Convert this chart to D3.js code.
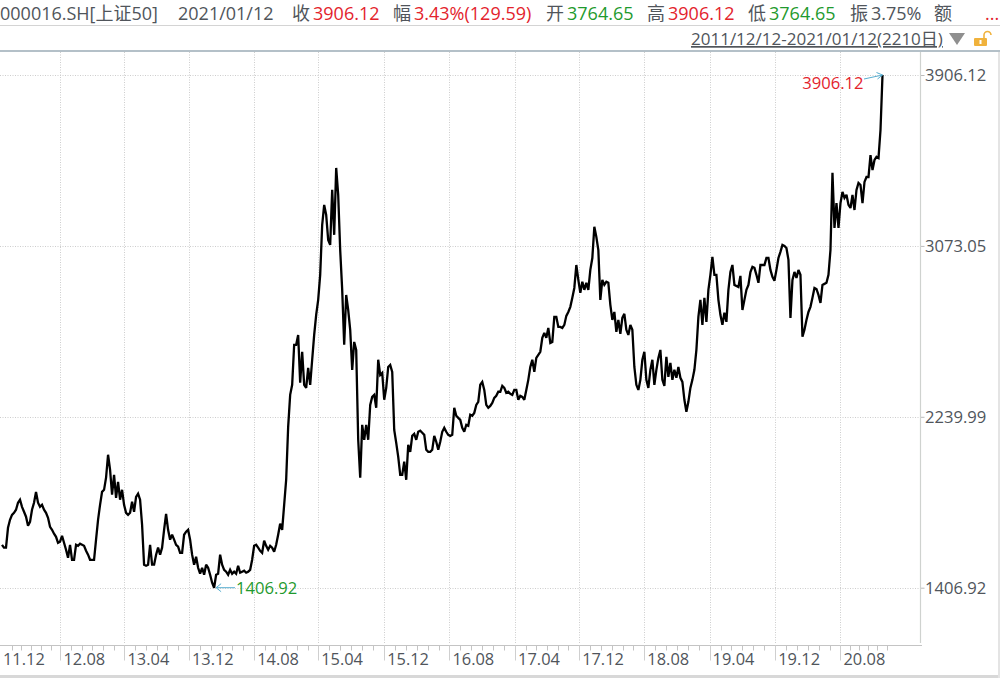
<!DOCTYPE html>
<html><head><meta charset="utf-8">
<script src="https://cdnjs.cloudflare.com/ajax/libs/d3/7.8.5/d3.min.js"></script>
<style>html,body{margin:0;padding:0;background:#fff;overflow:hidden}svg{display:block}text{font-family:"Open Sans","Noto Sans CJK SC",sans-serif}</style>
</head><body><svg id="c" width="1000" height="678"></svg>
<script>
// Sampled every 5 trading sessions, in index points
const SESSION_STEP = 5;
const closes2011to2014 = [1616,1602,1602,1699,1738,1762,1772,1787,1821,1836,1801,1777,1753,1709,1728,1787,1821,1874,1821,1801,1811,1787,1772,1748,1704,1689,1670,1655,1626,1631,1660,1626,1592,1553,1616,1543,1543,1616,1611,1621,1616,1611,1587,1568,1543,1543,1543,1641,1738,1811,1874,1884,1943,2055,1982,1860,1957,1845,1923,1836,1884,1811,1772,1762,1772,1826,1777,1850,1865,1836,1714,1519,1514,1519,1616,1519,1519,1568,1602,1568,1602,1689,1767,1689,1641,1665,1641,1616,1607,1577,1577,1665,1680,1689,1641,1568,1519,1558,1504,1475,1504,1470,1519,1504,1470,1431,1406.92,1470,1475,1568,1519,1494,1485,1470,1494,1475,1485,1475,1514,1480,1485,1490,1480,1485,1494,1543,1611,1616,1602,1587,1577,1636,1611,1592,1611,1602,1582,1616,1665,1719,1689,1811,1933,2191];
const closes2014to2016 = [2347,2396,2591,2591,2639,2406,2557,2396,2381,2479,2396,2518,2639,2737,2810,2932,3175,3273,3224,3102,3078,3346,3127,3453,3322,3053,2859,2591,2834,2761,2664,2469,2605,2566,2128,1943,2201,2128,2201,2128,2298,2337,2347,2284,2518,2444,2454,2323,2381,2483,2493,2459,2176,2113,2045,1957,1957,2021,1933,2103,2069,2147,2157,2128,2167,2172,2162,2152,2079,2069,2069,2079,2147,2118,2079,2118,2167,2186,2167,2152,2147,2152,2284,2245,2235,2225,2186,2167,2201,2196,2250,2245,2259,2298,2313,2396,2410,2371,2298,2284,2293,2308,2332,2342,2362];
const closes2016to2021 = [2362,2391,2381,2357,2362,2352,2347,2371,2371,2323,2342,2337,2323,2371,2420,2483,2518,2459,2527,2542,2557,2625,2649,2625,2673,2600,2605,2727,2727,2678,2678,2673,2688,2732,2751,2776,2820,2868,2980,2907,2844,2898,2859,2893,2859,2956,3014,3166,3117,3053,2810,2907,2883,2898,2893,2786,2712,2751,2654,2712,2644,2722,2742,2664,2639,2688,2664,2483,2396,2371,2420,2518,2557,2420,2381,2469,2518,2396,2469,2527,2566,2420,2391,2532,2435,2503,2420,2469,2430,2483,2430,2410,2323,2264,2313,2381,2420,2469,2566,2727,2810,2688,2820,2703,2859,2932,3019,2932,2932,2810,2737,2688,2747,2703,2859,2946,2980,2883,2878,2873,2927,2761,2810,2859,2883,2946,2971,2966,2932,2893,2980,2980,2980,3014,3014,2956,2922,2903,2956,3014,3044,3078,3073,3063,3005,2722,2907,2946,2917,2956,2932,2630,2664,2712,2751,2776,2820,2868,2863,2834,2795,2883,2888,2893,2932,3053,3429,3161,3282,3161,3282,3336,3307,3322,3273,3258,3322,3248,3346,3380,3370,3282,3385,3409,3409,3516,3443,3492,3507,3501,3638,3906.12];
const priceTicks = [3906.12,3073.05,2239.99,1406.92];
const tickLabels = ["11.12","12.08","13.04","13.12","14.08","15.04","15.12","16.08","17.04","17.12","18.08","19.04","19.12","20.08"];
const tickSessions = [0,146,306,467,630,790,955,1118,1282,1442,1605,1768,1932,2095];
const headerTexts = ["000016.SH[上证50]","2021/01/12","收","3906.12","幅","3.43%(129.59)","开","3764.65","高","3906.12","低","3764.65","振","3.75%","额","..."];
const headerKinds = ["n","n","n","r","n","r","n","g","n","r","n","g","n","n","n","r"];
const rangeText = "2011/12/12-2021/01/12(2210日)";
const highValue = 3906.12, lowValue = 1406.92;

const closes = [...closes2011to2014,...closes2014to2016,...closes2016to2021];
const series = closes.map((v,i)=>({session:i*SESSION_STEP,value:v}));

const svg = d3.select("#c");
const GRAY="#50555b", RED="#e3232c", GREEN="#1f9a2e", ARROW="#58aed0", GRID="#cdcdcd";
const kindColor = {n:GRAY,r:RED,g:GREEN};
const x = d3.scaleLinear().domain([0,2200]).range([2,882.5]);
const y = d3.scaleLinear().domain([lowValue,highValue]).range([587.7,75]);
const plotRight=920, plotTop=52, plotBottom=643, axisY=645.5;

// frame
const hdrX=[0,178,292,313,393,414,546,567,647,668,748,769,850,871,934,985];
svg.append("rect").attr("x",0).attr("y",25).attr("width",1000).attr("height",1).attr("fill","#d4d4d4");
svg.append("rect").attr("x",0).attr("y",50).attr("width",1000).attr("height",2).attr("fill","#b4c0c8");
svg.append("rect").attr("x",0).attr("y",675).attr("width",1000).attr("height",3).attr("fill","#d8d8d8");
svg.append("rect").attr("x",998).attr("y",52).attr("width",2).attr("height",626).attr("fill","#e4e4e4");

svg.append("g").selectAll("text").data(headerTexts).join("text")
  .attr("x",(d,i)=>hdrX[i]).attr("y",20).attr("font-size",18)
  .attr("fill",(d,i)=>kindColor[headerKinds[i]]).text(d=>d);

svg.append("text").attr("x",691).attr("y",45).attr("font-size",17).attr("fill",GRAY)
  .attr("text-decoration","underline").text(rangeText);
svg.append("path").attr("d","M949,33L965,33L957,45Z").attr("fill","#8f8f8f");
svg.append("rect").attr("x",974).attr("y",38).attr("width",13).attr("height",8).attr("rx",1).attr("fill","#f0b23c");
svg.append("rect").attr("x",979.5).attr("y",40).attr("width",2).attr("height",4).attr("fill","#fff");
svg.append("path").attr("d","M984,38V35a3.5,3.5 0 0 1 7,0").attr("fill","none").attr("stroke","#f0b23c").attr("stroke-width",1.6);

// grid
const majors = tickSessions.slice(1);
svg.append("g").selectAll("line").data(majors).join("line")
  .attr("x1",d=>Math.round(x(d))+.5).attr("x2",d=>Math.round(x(d))+.5)
  .attr("y1",plotTop).attr("y2",plotBottom)
  .attr("stroke",GRID).attr("stroke-dasharray","1,1.5");
svg.append("g").selectAll("line").data(priceTicks).join("line")
  .attr("x1",0).attr("x2",plotRight)
  .attr("y1",d=>Math.round(y(d))+.5).attr("y2",d=>Math.round(y(d))+.5)
  .attr("stroke",GRID).attr("stroke-dasharray","1,1.5");

// right axis
const right = svg.append("g").attr("transform",`translate(${plotRight+.5},0)`)
  .call(d3.axisRight(y).tickValues(priceTicks).tickFormat(d3.format(".2f")).tickSize(4).tickPadding(0.5));
right.select(".domain").remove();
right.selectAll("line").attr("stroke","#bbb");
right.selectAll("text").attr("font-size",16.6).attr("fill",GRAY).attr("font-family",'"Open Sans",sans-serif');
svg.append("line").attr("x1",plotRight+.5).attr("x2",plotRight+.5).attr("y1",plotTop).attr("y2",plotBottom)
  .attr("stroke","#cfd2cf").attr("stroke-width",1.2);

// bottom axis
svg.append("line").attr("x1",0).attr("x2",922).attr("y1",axisY).attr("y2",axisY).attr("stroke","#c4c4c4");
const minors=[];
const SUB=6;
for(let i=0;i<tickSessions.length;i++){
  const a=tickSessions[i], b=tickSessions[i+1]!==undefined?tickSessions[i+1]:a+(a-tickSessions[i-1])*.85;
  for(let k=1;k<SUB;k++) minors.push(a+(b-a)*k/SUB);
}
svg.append("g").selectAll("line").data(minors).join("line")
  .attr("x1",d=>Math.round(x(d))+.5).attr("x2",d=>Math.round(x(d))+.5)
  .attr("y1",axisY).attr("y2",axisY+5).attr("stroke","#c4c4c4");
svg.append("g").selectAll("line").data(majors).join("line")
  .attr("x1",d=>Math.round(x(d))+.5).attr("x2",d=>Math.round(x(d))+.5)
  .attr("y1",axisY).attr("y2",axisY+15).attr("stroke","#cfcfcf");
svg.append("g").selectAll("text").data(tickLabels).join("text")
  .attr("x",(d,i)=>x(tickSessions[i])+(i?3:1)).attr("y",664.5).attr("font-size",16.4)
  .attr("fill",GRAY).text(d=>d);

// price line
svg.append("path").datum(series)
  .attr("fill","none").attr("stroke","#000").attr("stroke-width",2.3)
  .attr("stroke-linejoin","miter").attr("stroke-miterlimit",2.5)
  .attr("d",d3.line().x(d=>x(d.session)).y(d=>y(d.value)));

// annotations
const hi=series[series.length-1], lo=series.find(d=>d.value===lowValue);
const hx=x(hi.session), hy=y(hi.value), lx=x(lo.session)+2, ly=y(lo.value);
svg.append("path").attr("d",`M864,79L${hx},${hy}M${hx-6},${hy-2.5}L${hx},${hy}L${hx-5},${hy+4}`)
  .attr("fill","none").attr("stroke",ARROW).attr("stroke-width",1);
svg.append("text").attr("x",863.5).attr("y",89).attr("text-anchor","end").attr("font-size",16.6).attr("fill",RED).text(highValue.toFixed(2));
svg.append("path").attr("d",`M235,${ly}L${lx},${ly}M${lx+5},${ly-4}L${lx},${ly}L${lx+5},${ly+4}`)
  .attr("fill","none").attr("stroke",ARROW).attr("stroke-width",1);
svg.append("text").attr("x",236).attr("y",ly+6).attr("font-size",16.6).attr("fill",GREEN).text(lowValue.toFixed(2));
</script></body></html>
